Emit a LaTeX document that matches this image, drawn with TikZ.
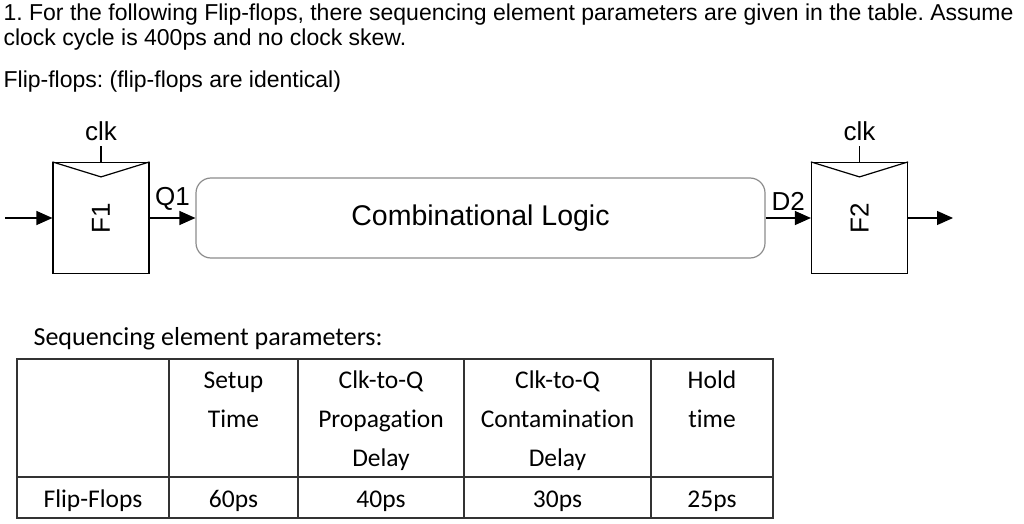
\documentclass[tikz,border=0pt]{standalone}
\usepackage{fontspec}
\setmainfont{Liberation Sans}
\newfontfamily\tabfont[Ligatures={NoCommon,NoRare}]{Carlito}
\usetikzlibrary{arrows.meta}
\frenchspacing

\begin{document}
\begin{tikzpicture}[x=1pt,y=-1pt,line width=1.2pt,
  ff/.style={draw,minimum width=96pt,minimum height=111pt,inner sep=0pt},
  logic/.style={draw=black!45,rounded corners=15pt,minimum width=569pt,minimum height=80pt,font=\fontsize{28.5}{33}\selectfont},
  arr/.style={-{Triangle[length=16pt,width=14pt]}},
  lbl/.style={font=\fontsize{26}{30}\selectfont},
  txt/.style={anchor=base west,inner sep=0pt,font=\fontsize{23}{27}\selectfont},
  cell/.style={anchor=base,inner sep=0pt,font=\tabfont\fontsize{25.5}{30}\selectfont}]
\useasboundingbox (0,0) rectangle (1024,524);

% question text
\node[txt] (q1) at (3,21) {1. For the following Flip-flops, there sequencing element parameters are given in the table. Assume};
\node[txt] (q2) at (3,46) {clock cycle is 400ps and no clock skew.};
\node[txt] (q3) at (3,88) {Flip-flops: (flip-flops are identical)};

% flip-flops and logic
\node[ff] (f1) at (101,218) {};
\node[ff] (f2) at (859.5,218) {};
\node[logic] (cl) at (480.5,218) {Combinational Logic};
\node[lbl,rotate=90] (n1) at (f1) {F1};
\node[lbl,rotate=90] (n2) at (f2) {F2};
\foreach \f in {f1,f2}{
  \draw (\f.north west) -- ([yshift=-15pt]\f.north) -- (\f.north east);
  \draw (\f.north) -- ++(0,-16) coordinate (clk\f);
  \node[lbl,above=4pt,inner sep=1pt] (c\f) at (clk\f) {clk};
}
\coordinate (in) at (5,218);
\coordinate (out) at (953,218);
\draw[arr] (in) -- (f1.west);
\draw[arr] (f1.east) -- node[lbl,above=5pt,inner sep=2pt] (q) {Q1} (cl.west);
\draw[arr] (cl.east) -- node[lbl,above=5pt,inner sep=2pt] (d) {D2} (f2.west);
\draw[arr] (f2.east) -- (out);

% parameter table
\node[txt,font=\tabfont\fontsize{26}{30}\selectfont] (tt) at (33,345) {Sequencing element parameters:};
\draw[black!80] (17,359) rectangle (773,518);
\draw[black!80] (17,477) -- (773,477);
\foreach \x in {169,298,464,651} \draw[black!80] (\x,359) -- (\x,518);
\node[cell] (h2a) at (233.5,388) {Setup};
\node[cell] (h2b) at (233.5,427) {Time};
\node[cell] (h3a) at (381,388) {Clk-to-Q};
\node[cell] (h3b) at (381,427) {Propagation};
\node[cell] (h3c) at (381,466) {Delay};
\node[cell] (h4a) at (557.5,388) {Clk-to-Q};
\node[cell] (h4b) at (557.5,427) {Contamination};
\node[cell] (h4c) at (557.5,466) {Delay};
\node[cell] (h5a) at (712,388) {Hold};
\node[cell] (h5b) at (712,427) {time};
\node[cell] (r1) at (93,507) {Flip-Flops};
\node[cell] (r2) at (233.5,507) {60ps};
\node[cell] (r3) at (381,507) {40ps};
\node[cell] (r4) at (557.5,507) {30ps};
\node[cell] (r5) at (712,507) {25ps};
\end{tikzpicture}
\end{document}
